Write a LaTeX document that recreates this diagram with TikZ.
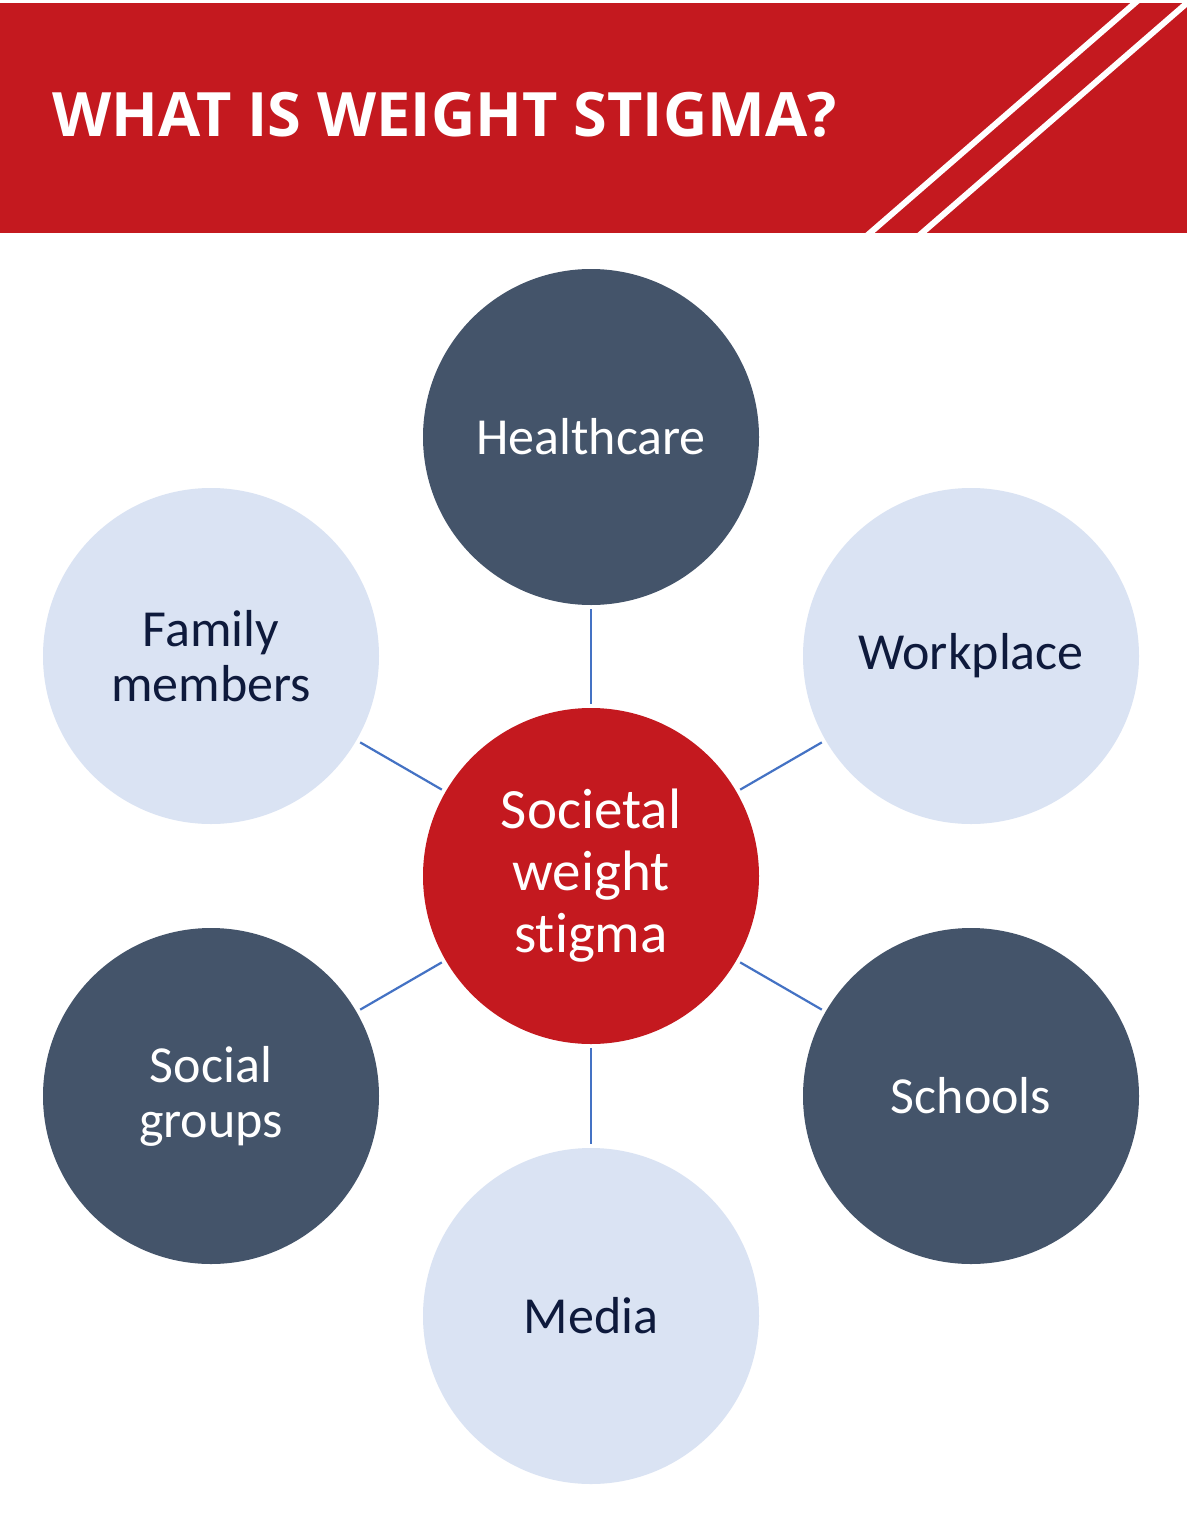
\documentclass[tikz,border=0pt]{standalone}
\usepackage{fontspec}
\usetikzlibrary{calc}
\setmainfont{Carlito}[Ligatures={NoCommon}]
\newfontfamily\titlefont{Open Sans}
\definecolor{bannerred}{HTML}{C4191F}
\definecolor{darkslate}{HTML}{44546A}
\definecolor{lightblue}{HTML}{DAE3F3}
\definecolor{linkblue}{HTML}{4472C4}
\definecolor{textnavy}{HTML}{0E1A3C}
\begin{document}
\begin{tikzpicture}[x=0.5pt,y=-0.5pt,
  bubble/.style={circle,minimum size=168pt,inner sep=0pt,align=center,font=\fontsize{26}{27.5}\selectfont},
  darkbubble/.style={bubble,fill=darkslate,text=white},
  lightbubble/.style={bubble,fill=lightblue,text=textnavy},
  hub/.style={bubble,fill=bannerred,text=white,font=\fontsize{28.5}{31}\selectfont},
  link/.style={draw=linkblue,line width=1.1pt,shorten <=2pt,shorten >=2pt},
  stripe/.style={draw=white,line width=3pt}]
\useasboundingbox (0,0) rectangle (1187,1536);
\fill[white] (0,0) rectangle (1187,1536);
% banner
\fill[bannerred] (0,3) rectangle (1187,233);
\coordinate (s1a) at (870,233); \coordinate (s1b) at (1135,3);
\coordinate (s2a) at (922,233); \coordinate (s2b) at (1187,3);
\begin{scope}
\clip (0,3) rectangle (1187,233);
\draw[stripe] ($(s1a)!-0.05!(s1b)$) -- ($(s1a)!1.05!(s1b)$);
\draw[stripe] ($(s2a)!-0.05!(s2b)$) -- ($(s2a)!1.05!(s2b)$);
\end{scope}
\node[anchor=base west,inner sep=0pt,text=white,font=\titlefont\bfseries\fontsize{30.6}{31}\selectfont] (title) at (52,137) {WHAT IS WEIGHT STIGMA?};
% nodes
\node[hub] (center) at (591,876) {Societal\\weight\\stigma};
\node[darkbubble] (health) at (591,437) {Healthcare};
\node[lightbubble] (family) at (211,656) {Family\\members};
\node[lightbubble] (work) at (971,656) {Workplace};
\node[darkbubble] (social) at (211,1096) {Social\\groups};
\node[darkbubble] (schools) at (971,1096) {Schools};
\node[lightbubble] (media) at (591,1316) {Media};
% links
\draw[link] (center) -- (health);
\draw[link] (center) -- (family);
\draw[link] (center) -- (work);
\draw[link] (center) -- (social);
\draw[link] (center) -- (schools);
\draw[link] (center) -- (media);
\end{tikzpicture}
\end{document}
